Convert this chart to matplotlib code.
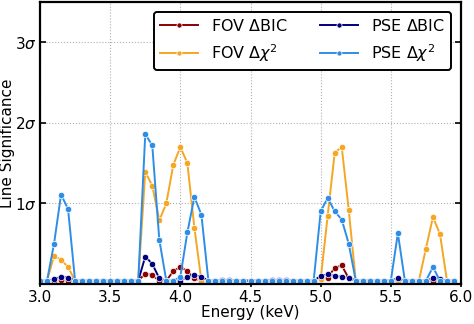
import numpy as np
import matplotlib
matplotlib.use("Agg")
import matplotlib.pyplot as plt

# energy grid (keV), 0.05 keV steps
energy = np.round(np.arange(3.0, 5.999, 0.05), 2)

z = 0.04
fov_bic = [z, z, z, 0.05, z, z, z, z, z, z,
           z, z, z, z, z, 0.13, 0.11, z, z, 0.16,
           0.21, 0.16, 0.07, z, z, z, z, z, z, z,
           z, z, z, z, z, z, z, z, z, z,
           0.06, 0.08, 0.20, 0.23, 0.07, z, z, z, z, z,
           z, z, z, z, z, z, z, z, z, z]
fov_chi2 = [z, z, 0.35, 0.30, 0.21, z, z, z, z, z,
            z, z, z, z, z, 1.39, 1.22, 0.79, 1.00, 1.48,
            1.70, 1.50, 0.70, z, z, z, z, z, z, z,
            z, z, z, z, z, z, z, z, z, z,
            0.06, 0.85, 1.63, 1.70, 0.92, z, z, z, z, z,
            z, z, z, z, z, 0.44, 0.83, 0.62, z, z]
pse_bic = [z, z, 0.06, 0.09, 0.08, z, z, z, z, z,
           z, z, z, z, z, 0.34, 0.25, 0.07, z, z,
           z, 0.09, 0.11, 0.09, z, z, 0.05, 0.05, z, z,
           z, z, z, 0.05, 0.05, 0.05, z, z, z, z,
           0.10, 0.12, 0.10, 0.09, 0.08, z, z, z, z, z,
           z, 0.07, z, z, z, z, 0.07, 0.06, z, z]
pse_chi2 = [z, z, 0.50, 1.11, 0.93, z, z, z, z, z,
            z, z, z, z, z, 1.86, 1.72, 0.55, z, z,
            0.09, 0.64, 1.08, 0.86, z, z, z, z, z, z,
            z, z, z, z, z, z, z, z, z, z,
            0.90, 1.07, 0.90, 0.80, 0.50, z, z, z, z, z,
            z, 0.63, z, z, z, z, 0.21, z, z, z]

series = [
    (fov_bic, "darkred", r"FOV $\Delta$BIC"),
    (fov_chi2, "#f5a623", r"FOV $\Delta\chi^2$"),
    (pse_bic, "navy", r"PSE $\Delta$BIC"),
    (pse_chi2, "#2e8ee6", r"PSE $\Delta\chi^2$"),
]

fig = plt.figure(figsize=(4.74, 3.24), dpi=100)
ax = fig.add_axes([0.0844, 0.1235, 0.8882, 0.8703])

for vals, col, lab in series:
    ax.plot(energy, vals, "-o", color=col, lw=1.4, ms=4.6,
            mec="white", mew=0.5, label=lab)

ax.set_xlim(3.0, 6.0)
ax.set_ylim(0, 3.5)
ax.set_xticks([3.0, 3.5, 4.0, 4.5, 5.0, 5.5, 6.0])
ax.set_yticks([1, 2, 3])
ax.set_yticklabels([r"$1\sigma$", r"$2\sigma$", r"$3\sigma$"])
ax.grid(True, ls=":", color="#b0b0b0", lw=0.8)
ax.tick_params(axis="y", direction="in", right=True, labelsize=11, length=4, width=1.2, pad=2)
ax.tick_params(axis="x", direction="inout", labelsize=11, length=5, width=1.2, pad=2)
for sp in ax.spines.values():
    sp.set_linewidth(1.6)

ax.set_xlabel("Energy (keV)", fontsize=11, labelpad=0)
ax.set_ylabel("Line Significance", fontsize=11, labelpad=0)

leg = ax.legend(ncol=2, loc="upper right", fontsize=11.5, handlelength=2.4,
                framealpha=1, edgecolor="black", borderaxespad=0.6,
                columnspacing=2.0, handletextpad=0.8, borderpad=0.4,
                markerscale=0.8)
leg.get_frame().set_linewidth(1.4)

fig.savefig("out.png", dpi=100)
